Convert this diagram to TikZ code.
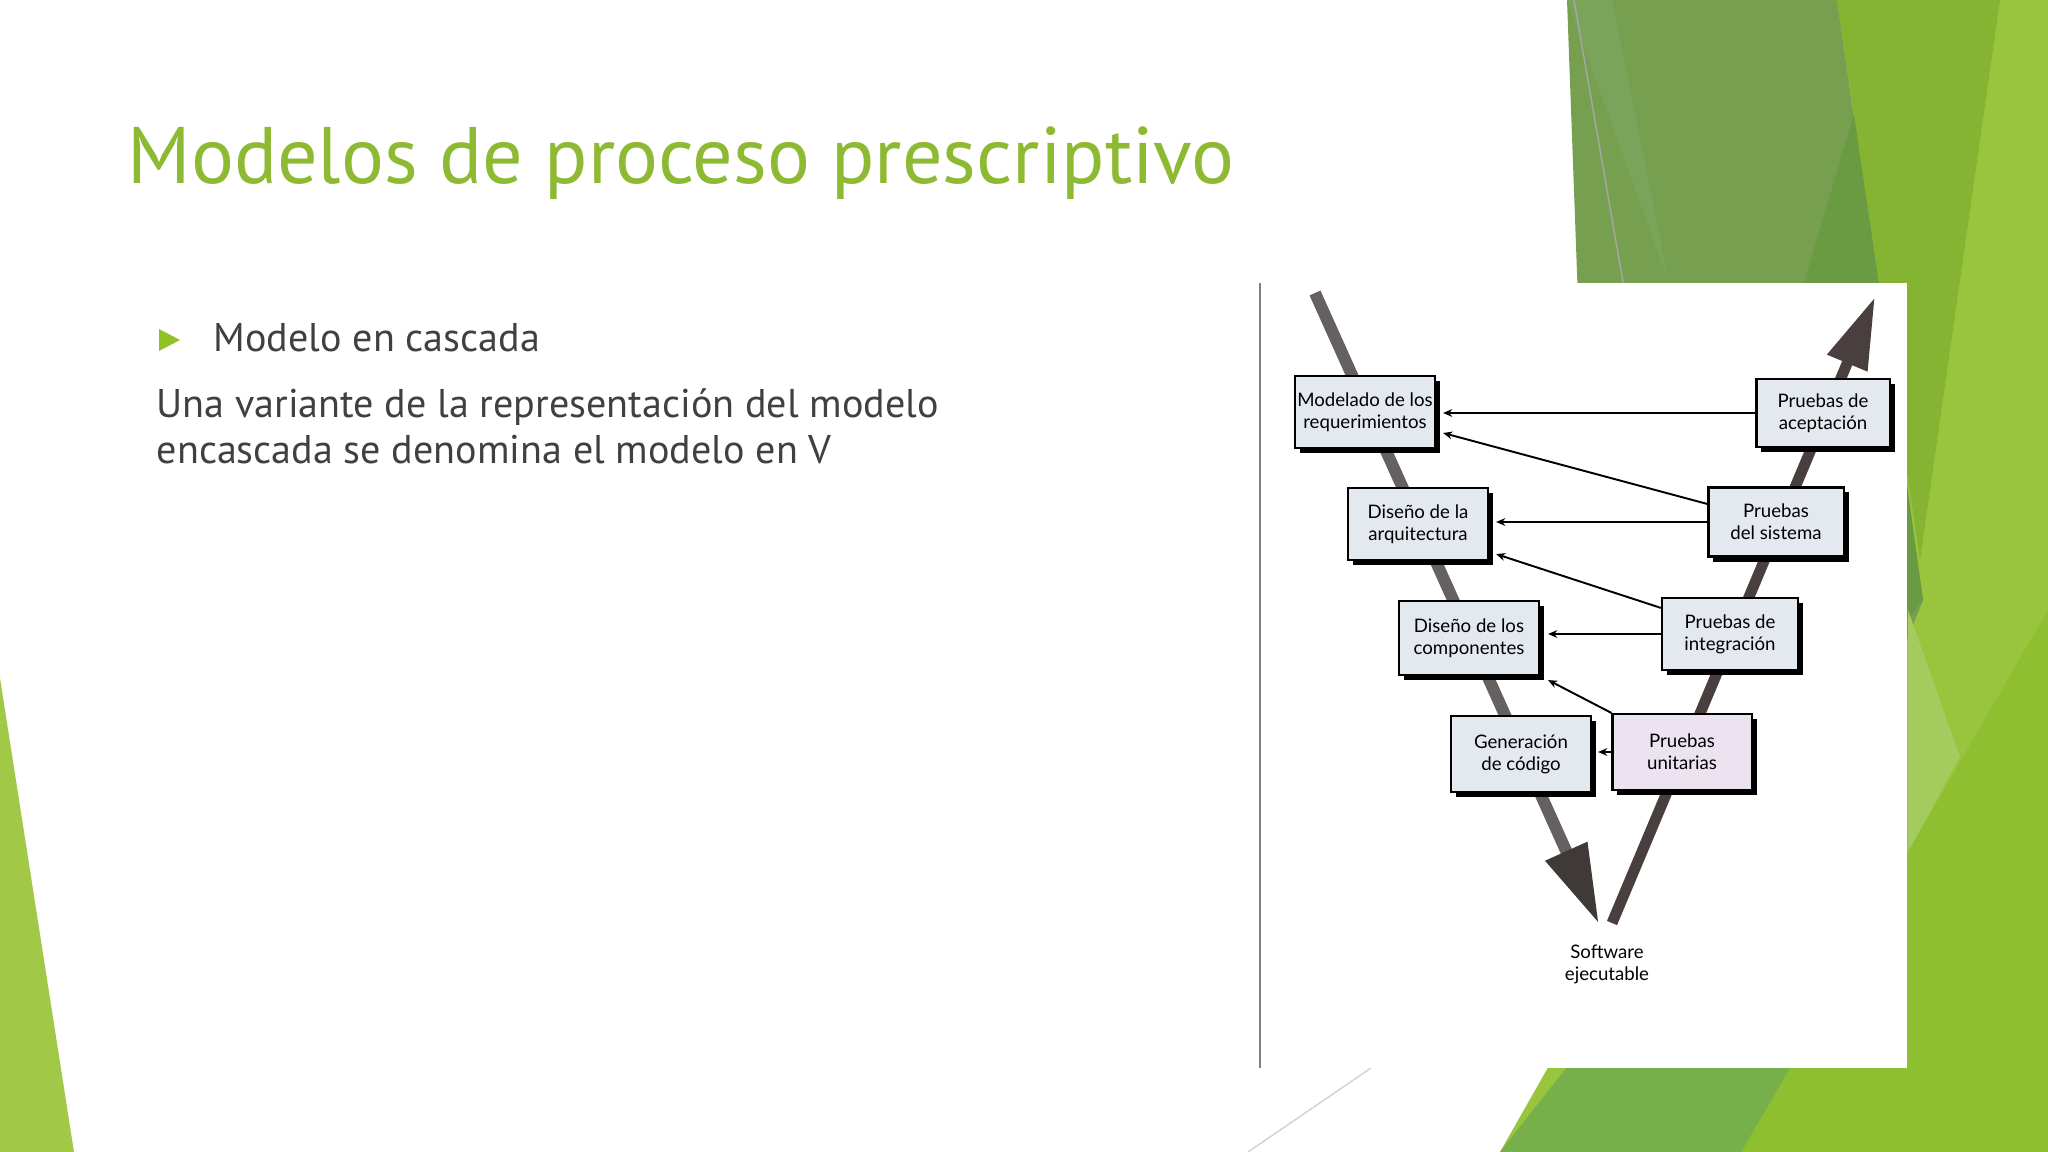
\documentclass[tikz,border=0pt]{standalone}
\usepackage{fontspec}
\setmainfont{PT Sans}
\newfontfamily\cajafont{Lato}
\usetikzlibrary{arrows.meta,shadows,calc}

\definecolor{verdetitulo}{HTML}{8DB933}
\definecolor{verdebala}{HTML}{90C226}
\definecolor{verdeclaro}{HTML}{A1C846}
\definecolor{verdeoliva}{HTML}{76A04F}
\definecolor{verdeoliva2}{HTML}{7AA45A}
\definecolor{verdeoscuro}{HTML}{6A9B43}
\definecolor{verdevivo}{HTML}{84B432}
\definecolor{verdelima}{HTML}{98C53D}
\definecolor{verdemedio}{HTML}{77B04A}
\definecolor{verdebajo}{HTML}{8DBF30}
\definecolor{verdeparche}{HTML}{A3CB5E}
\definecolor{textogris}{HTML}{404040}
\definecolor{cajaazul}{HTML}{E3E9EF}
\definecolor{cajarosa}{HTML}{EBE3EF}
\definecolor{brazoizq}{HTML}{656161}
\definecolor{brazoder}{HTML}{4A3F3F}
\definecolor{cabeza}{HTML}{3F3A38}

\begin{document}
\begin{tikzpicture}[x=0.01cm, y=-0.01cm,
    caja/.style={draw=black, line width=0.6pt, fill=cajaazul,
      minimum width=1.4cm, minimum height=0.72cm, inner sep=0pt,
      align=center, font=\cajafont\fontsize{5.3}{6.3}\selectfont,
      drop shadow={shadow xshift=0.05cm, shadow yshift=-0.05cm,
        fill=black, opacity=1}},
    flecha/.style={-{Stealth[length=2.6pt, width=2.2pt]}, line width=0.55pt},
    brazo/.style={line width=3.4pt},
    texto/.style={anchor=base west, inner sep=0pt, text=textogris,
      font=\fontsize{11.4}{13.6}\selectfont}]
  \useasboundingbox (0,0) rectangle (2048,1152);
  \fill[white] (0,0) rectangle (2048,1152);

  % Fondo verde, derecha
  \fill[verdelima] (1837,0) -- (2048,0) -- (2048,1152) -- (1500,1152)
    -- (1700,800) -- cycle;
  \fill[verdeoliva] (1567,0) -- (1837,0) -- (1923,600) -- (1907,640)
    -- (1600,900) -- cycle;
  \fill[verdeoliva2] (1567,0) -- (1612,0) -- (1669,283) -- cycle;
  \fill[verdeoscuro] (1855,110) -- (1923,600) -- (1907,620) -- (1804,283) -- cycle;
  \fill[verdevivo] (1837,0) -- (2000,0) -- (1920,560) -- cycle;
  \fill[verdeparche] (1908,610) -- (1960,757) -- (1908,852) -- cycle;
  \fill[verdebajo] (1741,1152) -- (1830,1000) -- (1908,852) -- (2048,610)
    -- (2048,1152) -- cycle;
  \fill[verdemedio] (1500,1152) -- (1620,1000) -- (1830,1000)
    -- (1741,1152) -- cycle;
  \draw[gray!70, line width=0.4pt] (1574,0) -- (1640,380);

  % Fondo verde, izquierda
  \fill[verdeclaro] (0,678) -- (74,1152) -- (0,1152) -- cycle;
  \draw[gray!35, line width=0.4pt] (1371,1068) -- (1248,1152);

  % Titulo y texto
  \node[anchor=base west, inner sep=0pt, text=verdetitulo,
    font=\fontsize{22.8}{27}\selectfont] (titulo) at (127,184)
    {Modelos de proceso prescriptivo};
  \fill[verdebala] (159,329) -- (159,351) -- (180,340) -- cycle;
  \node[texto] (cascada) at (213,352) {Modelo en cascada};
  \node[texto] (linea1) at (156,418)
    {Una variante de la representación del modelo};
  \node[texto] (linea2) at (156,464)
    {encascada se denomina el modelo en V};

  % Imagen del modelo en V
  \fill[white] (1260,283) rectangle (1907,1068);
  \draw[gray, line width=0.6pt] (1260,283) -- (1260,1068);

  % Brazos de la V
  \coordinate (izqini) at (1315,293);
  \coordinate (izqfin) at (1599,924);
  \coordinate (derini) at (1612,923);
  \coordinate (derfin) at (1875,297);
  \draw[brazo, brazoizq, -{Triangle[length=22.7pt, width=12.2pt, color=cabeza]}]
    (izqini) -- (izqfin);
  \draw[brazo, brazoder, line width=3.1pt,
    -{Triangle[length=20.4pt, width=11.6pt]}] (derini) -- (derfin);

  % Cajas
  \node[caja] (modelado) at (1365,412) {Modelado de los\\requerimientos};
  \node[caja] (arquitectura) at (1418,524) {Diseño de la\\arquitectura};
  \node[caja, minimum height=0.74cm] (componentes) at (1469,638)
    {Diseño de los\\componentes};
  \node[caja, minimum height=0.76cm] (generacion) at (1521,754)
    {Generación\\de código};
  \node[caja, minimum width=1.33cm, minimum height=0.68cm] (aceptacion)
    at (1823,413) {Pruebas de\\aceptación};
  \node[caja, minimum width=1.35cm, minimum height=0.69cm] (sistema)
    at (1776,522) {Pruebas\\del sistema};
  \node[caja, minimum width=1.36cm] (integracion) at (1730,634)
    {Pruebas de\\integración};
  \node[caja, minimum width=1.39cm, minimum height=0.76cm, fill=cajarosa]
    (unitarias) at (1682,752) {Pruebas\\unitarias};
  \node[font=\cajafont\fontsize{5.3}{6.3}\selectfont, align=center,
    inner sep=0pt] (software) at (1607,964) {Software\\ejecutable};

  % Flechas de verificacion
  \draw[flecha] (aceptacion.west)
    -- ($(aceptacion.west -| modelado.east)+(7,0)$);
  \draw[flecha] ($(sistema.west)+(0,-18)$) -- ($(modelado.east)+(7,21)$);
  \draw[flecha] (sistema.west)
    -- ($(sistema.west -| arquitectura.east)+(7,0)$);
  \draw[flecha] ($(integracion.north west)+(0,11)$)
    -- ($(arquitectura.south east)+(7,-7)$);
  \draw[flecha] (integracion.west)
    -- ($(integracion.west -| componentes.east)+(8,0)$);
  \draw[flecha] (unitarias.north west) -- ($(componentes.south east)+(8,4)$);
  \draw[flecha] (unitarias.west)
    -- ($(unitarias.west -| generacion.east)+(6,0)$);
\end{tikzpicture}
\end{document}
